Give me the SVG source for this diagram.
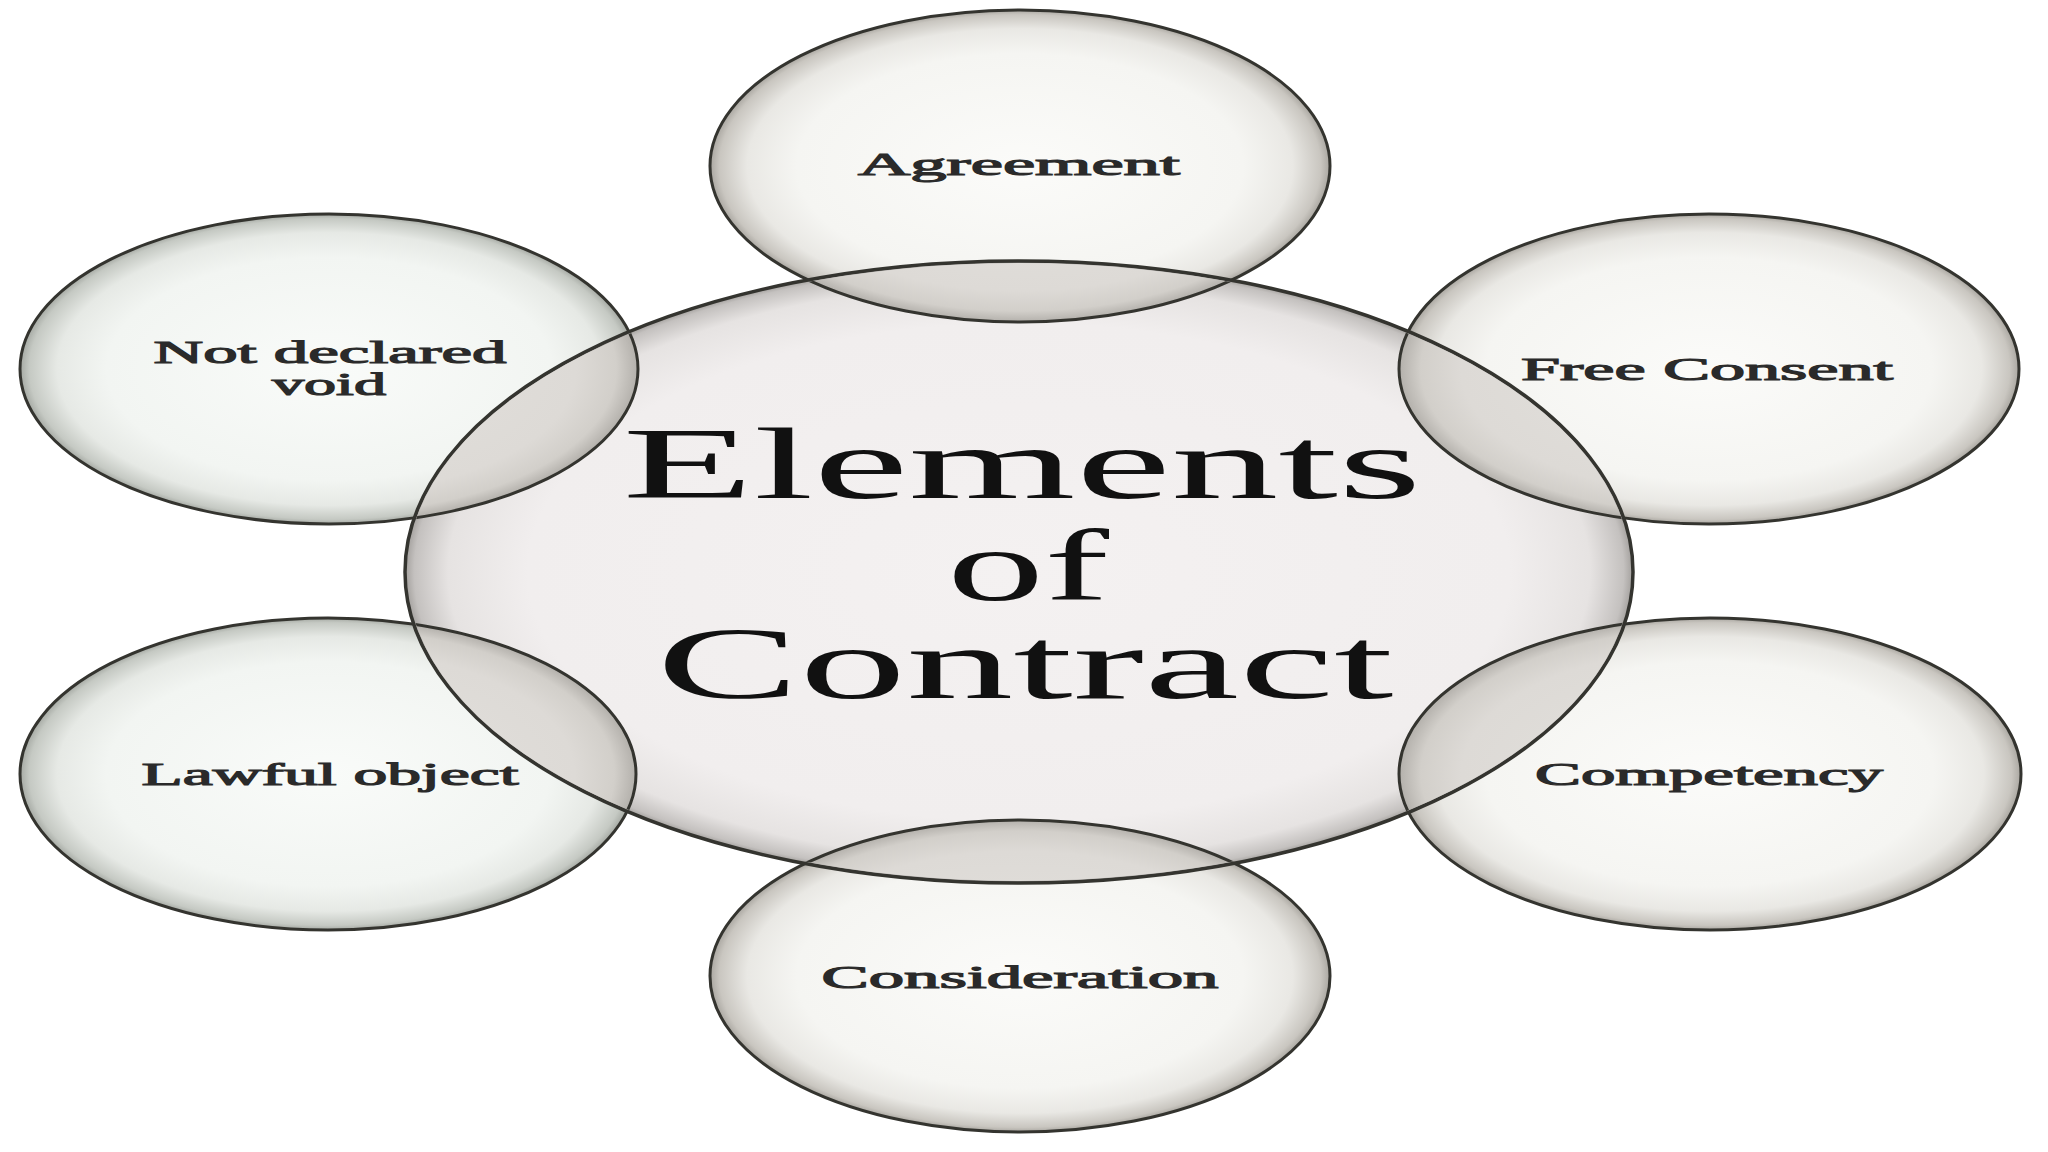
<svg xmlns="http://www.w3.org/2000/svg" width="2048" height="1152" viewBox="0 0 2048 1152">
  <style>
    .bubble { fill: url(#gBubble); stroke: #34342f; stroke-width: 3; }
    .bubbleL { fill: url(#gBubbleG); stroke: #34342f; stroke-width: 3; }
    .core { fill: url(#gCore); stroke: #34342f; stroke-width: 3.5; }
    .lens { fill: url(#gLens); stroke: #34342f; stroke-width: 3; }
    .lbl { font-family: "Liberation Serif", "DejaVu Serif", serif; font-size: 31px; fill: #2a2a2a; stroke: #2a2a2a; stroke-width: 1.1; text-anchor: middle; }
    .title { font-family: "Liberation Serif", "DejaVu Serif", serif; font-size: 102px; fill: #111111; text-anchor: middle; }
  </style>
  <defs>
    <radialGradient id="gBubble" cx="50%" cy="50%" r="50%">
      <stop offset="0" stop-color="#fbfbf9"/>
      <stop offset="0.72" stop-color="#f5f5f2"/>
      <stop offset="0.88" stop-color="#e9e8e4"/>
      <stop offset="0.97" stop-color="#c9c6c0"/>
      <stop offset="1" stop-color="#a9a6a0"/>
    </radialGradient>
    <radialGradient id="gBubbleG" cx="50%" cy="50%" r="50%">
      <stop offset="0" stop-color="#f9fbf9"/>
      <stop offset="0.72" stop-color="#f2f5f2"/>
      <stop offset="0.88" stop-color="#e6e9e5"/>
      <stop offset="0.97" stop-color="#c5c9c3"/>
      <stop offset="1" stop-color="#a5a9a3"/>
    </radialGradient>
    <radialGradient id="gCore" cx="50%" cy="50%" r="50%">
      <stop offset="0" stop-color="#f4f1f1"/>
      <stop offset="0.8" stop-color="#f1eeee"/>
      <stop offset="0.93" stop-color="#e6e3e2"/>
      <stop offset="0.985" stop-color="#c4c1bf"/>
      <stop offset="1" stop-color="#a3a09d"/>
    </radialGradient>
    <radialGradient id="gLens" cx="50%" cy="50%" r="50%">
      <stop offset="0" stop-color="#e4e2de"/>
      <stop offset="0.8" stop-color="#dddad6"/>
      <stop offset="0.93" stop-color="#d2cfca"/>
      <stop offset="1" stop-color="#b3b0ab"/>
    </radialGradient>
    <clipPath id="clipCore">
      <ellipse cx="1019" cy="572" rx="612" ry="309"/>
    </clipPath>
  </defs>

  <rect width="2048" height="1152" fill="#ffffff"/>

  <g id="node-agreement">
    <ellipse class="bubble" cx="1020" cy="166" rx="310" ry="156"/>
    <text class="lbl" x="1019" y="175" textLength="322" lengthAdjust="spacingAndGlyphs">Agreement</text>
  </g>
  <g id="node-not-declared-void">
    <ellipse class="bubbleL" cx="329" cy="369" rx="309" ry="155"/>
    <text class="lbl" x="330" y="363" textLength="353" lengthAdjust="spacingAndGlyphs">Not declared</text>
    <text class="lbl" x="329" y="395" textLength="114" lengthAdjust="spacingAndGlyphs">void</text>
  </g>
  <g id="node-free-consent">
    <ellipse class="bubble" cx="1709" cy="369" rx="310" ry="155"/>
    <text class="lbl" x="1707" y="380" textLength="372" lengthAdjust="spacingAndGlyphs">Free Consent</text>
  </g>
  <g id="node-lawful-object">
    <ellipse class="bubbleL" cx="328" cy="774" rx="308" ry="156"/>
    <text class="lbl" x="330" y="785" textLength="377" lengthAdjust="spacingAndGlyphs">Lawful object</text>
  </g>
  <g id="node-competency">
    <ellipse class="bubble" cx="1710" cy="774" rx="311" ry="156"/>
    <text class="lbl" x="1709" y="785" textLength="348" lengthAdjust="spacingAndGlyphs">Competency</text>
  </g>
  <g id="node-consideration">
    <ellipse class="bubble" cx="1020" cy="976" rx="310" ry="156"/>
    <text class="lbl" x="1020" y="988" textLength="397" lengthAdjust="spacingAndGlyphs">Consideration</text>
  </g>

  <g id="node-elements-of-contract">
    <ellipse class="core" cx="1019" cy="572" rx="614" ry="311"/>
    <text class="title" x="1022" y="498" textLength="799" lengthAdjust="spacingAndGlyphs">Elements</text>
    <text class="title" x="1028" y="600" textLength="162" lengthAdjust="spacingAndGlyphs">of</text>
    <text class="title" x="1025" y="698" textLength="737" lengthAdjust="spacingAndGlyphs">Contract</text>
  </g>

  <g id="overlaps" clip-path="url(#clipCore)">
    <ellipse class="lens" cx="1020" cy="166" rx="310" ry="156"/>
    <ellipse class="lens" cx="329" cy="369" rx="309" ry="155"/>
    <ellipse class="lens" cx="1709" cy="369" rx="310" ry="155"/>
    <ellipse class="lens" cx="328" cy="774" rx="308" ry="156"/>
    <ellipse class="lens" cx="1710" cy="774" rx="311" ry="156"/>
    <ellipse class="lens" cx="1020" cy="976" rx="310" ry="156"/>
  </g>
</svg>
